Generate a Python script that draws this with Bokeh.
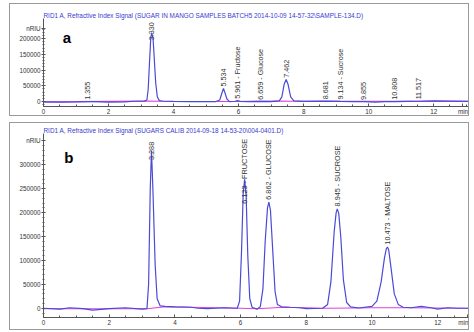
import math
from bokeh.plotting import figure
from bokeh.layouts import column
from bokeh.models import (ColumnDataSource, Title, FixedTicker, Label, Range1d,
                          NumeralTickFormatter)
from bokeh.embed import file_html
from bokeh.resources import INLINE
from bokeh.core.properties import value

# ---------------- Panel a: mango sample ----------------
a_title = "RID1 A, Refractive Index Signal (SUGAR IN MANGO SAMPLES BATCH5 2014-10-09 14-57-32\\SAMPLE-134.D)"
a_time = [0.0, 0.5, 1.0, 1.355, 1.6, 2.0, 2.5, 2.8, 3.1, 3.18, 3.22, 3.26, 3.30, 3.33,
          3.37, 3.41, 3.45, 3.50, 3.56, 3.7, 4.0, 4.5, 5.0, 5.3, 5.42, 5.48, 5.534,
          5.58, 5.64, 5.72, 5.9, 5.961, 6.05, 6.3, 6.659, 7.0, 7.25, 7.33, 7.40, 7.462,
          7.52, 7.6, 7.7, 8.0, 8.681, 9.134, 9.5, 9.855, 10.2, 10.5, 10.808, 11.2,
          11.517, 12.0, 12.5, 13.1]
a_signal = [-1000, -1500, -1000, 0, -500, -1500, -1000, 1000, 1500, 5000, 40000, 125000,
            205000, 218000, 200000, 130000, 60000, 15000, 3000, 1000, 500, 0, -500, 0,
            5000, 25000, 42000, 28000, 8000, 0, 1000, 3000, 500, -500, 500, 0, 2000,
            15000, 55000, 70000, 55000, 15000, 2000, 500, 1500, 500, 0, -500, -1500,
            -500, 0, 500, 1000, 2000, 1500, 500]
a_base_time = [0.0, 3.15, 3.6, 5.4, 5.7, 7.25, 7.7, 13.1]
a_base_signal = [-1000, 1500, 1000, 0, 0, 1500, 1000, 500]
a_peak_rt = [1.355, 3.330, 5.534, 5.961, 6.659, 7.462, 8.681, 9.134, 9.855, 10.808, 11.517]
a_peak_height = [0, 218000, 42000, 3000, 0, 70000, 1500, 500, -1000, 0, 1000]
a_peak_label = ["1.355", "3.330", "5.534", "5.961 - Fructose", "6.659 - Glucose", "7.462",
                "8.681", "9.134 - Sucrose", "9.855", "10.808", "11.517"]
a_yticks = [0, 50000, 100000, 150000, 200000]

# ---------------- Panel b: calibration standards ----------------
b_title = "RID1 A, Refractive Index Signal (SUGARS CALIB 2014-09-18 14-53-20\\004-0401.D)"
b_time = [0.0, 0.5, 0.8, 1.2, 1.5, 2.0, 2.5, 3.0, 3.15, 3.2, 3.25, 3.288, 3.33, 3.40,
          3.46, 3.55, 3.7, 4.0, 4.5, 4.7, 5.0, 5.5, 5.9, 5.97, 6.03, 6.08, 6.123, 6.17,
          6.22, 6.28, 6.35, 6.5, 6.6, 6.68, 6.75, 6.82, 6.862, 6.91, 6.98, 7.05, 7.12,
          7.25, 7.5, 7.8, 8.0, 8.5, 8.65, 8.75, 8.85, 8.91, 8.945, 8.99, 9.05, 9.13,
          9.23, 9.35, 9.6, 10.0, 10.15, 10.28, 10.38, 10.44, 10.473, 10.51, 10.58,
          10.68, 10.8, 10.95, 11.2, 11.5, 11.8, 12.0, 12.3, 12.6, 13.0]
b_signal = [0, -2000, 1000, -1000, -4000, -1000, 1000, -2000, -1000, 50000, 250000,
            330000, 250000, 90000, 20000, 5000, 4000, 3000, 2000, 0, -1000, 1000, 0,
            15000, 120000, 240000, 270000, 235000, 110000, 20000, 2000, -2000, 3000,
            40000, 140000, 210000, 222000, 205000, 120000, 35000, 8000, 3000, 2000,
            1000, -1000, 0, 8000, 55000, 160000, 200000, 208000, 198000, 150000, 60000,
            12000, 3000, 500, 4000, 15000, 55000, 105000, 125000, 128000, 122000, 85000,
            30000, 8000, 2000, 1000, 4000, 1000, -2000, 1000, 0, 0]
b_base_time = [0.0, 3.15, 3.7, 6.0, 6.5, 7.3, 8.6, 9.5, 10.0, 11.0, 13.0]
b_base_signal = [-1000, -1000, 3000, 0, -1000, 2000, 0, 500, 1000, 1000, 0]
b_peak_rt = [3.288, 6.123, 6.862, 8.945, 10.473]
b_peak_height = [330000, 270000, 222000, 208000, 128000]
b_peak_label = ["3.288", "6.123 - FRUCTOSE", "6.862 - GLUCOSE", "8.945 - SUCROSE",
                "10.473 - MALTOSE"]
b_yticks = [0, 50000, 100000, 150000, 200000, 250000, 300000]

x_major = [0, 2, 4, 6, 8, 10, 12]

BLUE = "#4a4ad8"
PINK = "#e040e0"
FONT = "Liberation Sans"


def make_panel(title, t, s, bt, bs, prt, ph, plab, yticks, y_top_tick, yr, xr,
               height, min_top, min_bottom, letter, letter_x, letter_y, lab_gap,
               lab_size, lab_ceiling, char_len, margin):
    p = figure(width=460, height=height, output_backend="svg", toolbar_location=None,
               x_range=Range1d(*xr), y_range=Range1d(*yr),
               min_border_left=33, min_border_right=1, min_border_top=min_top,
               min_border_bottom=min_bottom, margin=margin)
    p.styles = {"border": "1px solid #9a9a9a"}
    p.add_layout(Title(text=title, align="left", text_font_size="6.4px",
                       text_font=FONT, text_font_style="normal", text_color="#3a3ad0",
                       standoff=0, offset=0), "above")
    p.xgrid.visible = False
    p.ygrid.visible = False
    p.outline_line_color = None
    p.background_fill_color = "white"

    p.line(bt, bs, color=PINK, line_width=1.1)
    p.line(t, s, color=BLUE, line_width=1.2)

    # labels sit just above the apex, but are pushed down so they end below the ceiling
    lab_y = [min(h + lab_gap, lab_ceiling - len(txt) * char_len) for h, txt in zip(ph, plab)]
    src = ColumnDataSource(dict(x=prt, y=lab_y, t=plab))
    p.text(x="x", y="y", text="t", source=src, angle=math.pi / 2,
           text_align="left", text_baseline="middle", text_font=value(FONT),
           text_font_size=lab_size, text_color="#333333")

    p.add_layout(Label(x=letter_x, y=letter_y, text=letter, text_font=FONT,
                       text_font_size="15px", text_font_style="bold",
                       text_color="black", text_align="center",
                       text_baseline="middle"))

    # x axis
    xa = p.xaxis[0]
    xa.ticker = FixedTicker(ticks=x_major + [12.9],
                            minor_ticks=[i * 0.5 for i in range(27)])
    xa.formatter = NumeralTickFormatter(format="0")
    xa.major_label_overrides = {12.9: "min"}
    # y axis
    ya = p.yaxis[0]
    ya.ticker = FixedTicker(ticks=yticks + [y_top_tick],
                            minor_ticks=list(range(-10000, int(y_top_tick), 10000)))
    ya.formatter = NumeralTickFormatter(format="0")
    ya.major_label_overrides = {y_top_tick: "nRIU"}
    for ax in (xa, ya):
        ax.axis_line_color = "#555555"
        ax.major_tick_line_color = "#555555"
        ax.minor_tick_line_color = "#555555"
        ax.major_label_text_font = FONT
        ax.major_label_text_font_size = "6.3px"
        ax.major_label_text_color = "#333333"
    ya.major_label_standoff = 1
    ya.major_tick_in = 2
    ya.major_tick_out = 2
    ya.minor_tick_in = 1
    ya.minor_tick_out = 1
    xa.major_label_standoff = 1
    xa.major_tick_in = 3
    xa.major_tick_out = 0
    xa.minor_tick_in = 2
    xa.minor_tick_out = 0
    return p


pa = make_panel(a_title, a_time, a_signal, a_base_time, a_base_signal, a_peak_rt,
                a_peak_height, a_peak_label, a_yticks, 233000, (-15700, 264200),
                (0, 13.1), 113, 14, 8, "a", 0.72, 205000, 6000, "7.2px",
                251000, 11200, (3, 0, 0, 9))
pb = make_panel(b_title, b_time, b_signal, b_base_time, b_base_signal, b_peak_rt,
                b_peak_height, b_peak_label, b_yticks, 351000, (-19400, 365600),
                (0, 12.97), 208, 10, 14, "b", 0.77, 316000, 5000, "7.3px",
                351500, 8300, (6, 0, 0, 9))

layout = column(pa, pb, spacing=0)
open("out.html", "w").write(file_html(layout, INLINE))
